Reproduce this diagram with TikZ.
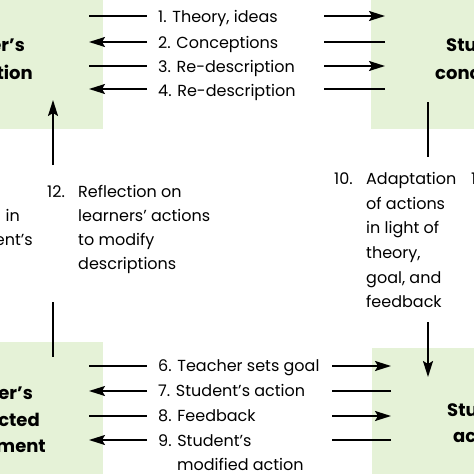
\documentclass[tikz,border=0pt]{standalone}
\usepackage{fontspec}
\setmainfont{Poppins}
\usetikzlibrary{arrows.meta}
\definecolor{boxgreen}{RGB}{229,242,215}
\tikzset{
  conn/.style={line width=1.8pt},
  tip/.style={conn,-{Stealth[length=16pt,width=10pt,inset=3pt]}},
  lbl/.style={inner sep=0pt,font=\fontsize{16}{19}\selectfont},
  boxtxt/.style={inner sep=0pt,font=\fontsize{18}{21}\selectfont\bfseries},
  panel/.style={fill=boxgreen,draw=none}
}
\begin{document}
\begin{tikzpicture}[x=1pt,y=-1pt]
\useasboundingbox (0,0) rectangle (474,474);
\clip (0,0) rectangle (474,474);
% boxes
\path[panel] (-20,-20) rectangle (103,129);
\path[panel] (371,-20) rectangle (494,129);
\path[panel] (-20,342) rectangle (103,494);
\path[panel] (372,348) rectangle (494,494);
% box texts
\node[boxtxt,anchor=base east] (tl1) at (25,51) {er's};
\node[boxtxt,anchor=base east] (tl2) at (33,79) {otion};
\node[boxtxt,anchor=base west] (tr1) at (446,51) {Stud};
\node[boxtxt,anchor=base west] (tr2) at (435,79) {conce};
\node[boxtxt,anchor=base east] (bl1) at (33,399) {her's};
\node[boxtxt,anchor=base east] (bl2) at (40,426) {ucted};
\node[boxtxt,anchor=base east] (bl3) at (46,452) {nment};
\node[boxtxt,anchor=base west] (br1) at (447,416) {Stud};
\node[boxtxt,anchor=base west] (br2) at (453,442) {act};
% top labels
\node[lbl,anchor=base west] (n1) at (158,22) {1. Theory, ideas};
\node[lbl,anchor=base west] (n2) at (158,48) {2. Conceptions};
\node[lbl,anchor=base west] (n3) at (158,72) {3. Re-description};
\node[lbl,anchor=base west] (n4) at (158,96) {4. Re-description};
% bottom labels
\node[lbl,anchor=base west] (n6) at (158,371) {6. Teacher sets goal};
\node[lbl,anchor=base west] (n7) at (158,396) {7. Student's action};
\node[lbl,anchor=base west] (n8) at (158,421) {8. Feedback};
\node[lbl,anchor=base west] (n9) at (158,446) {9. Student's};
\node[lbl,anchor=base west] (n9b) at (177,470) {modified action};
% middle left text
\node[lbl,anchor=base west] (n12) at (47,197) {12.};
\node[lbl,anchor=base west] (r1) at (78,197) {Reflection on};
\node[lbl,anchor=base west] (r2) at (78,221) {learners' actions};
\node[lbl,anchor=base west] (r3) at (78,245) {to modify};
\node[lbl,anchor=base west] (r4) at (78,269) {descriptions};
% middle right text
\node[lbl,anchor=base west] (n10) at (334,184) {10.};
\node[lbl,anchor=base west] (a1) at (366,184) {Adaptation};
\node[lbl,anchor=base west] (a2) at (366,209) {of actions};
\node[lbl,anchor=base west] (a3) at (366,233) {in light of};
\node[lbl,anchor=base west] (a4) at (366,258) {theory,};
\node[lbl,anchor=base west] (a5) at (366,283) {goal, and};
\node[lbl,anchor=base west] (a6) at (366,307) {feedback};
% partial texts at edges
\node[lbl,anchor=base east] (p1) at (20,221) {in};
\node[lbl,anchor=base east] (p2) at (33,245) {ent's};
\node[lbl,anchor=base west] (p3) at (471,184) {11.};
% connector coordinates
\foreach \k/\y in {1/16,2/42,3/66,4/89,6/366,7/391,8/416,9/440}{
  \coordinate (L\k a) at (89,\y);
  \coordinate (L\k b) at (147,\y);
}
\foreach \k/\y in {1/16,2/42,3/66,4/89}{
  \coordinate (R\k a) at (324,\y);
  \coordinate (R\k b) at (385,\y);
}
\foreach \k/\y in {6/366,7/391,8/416,9/440}{
  \coordinate (R\k a) at (332,\y);
  \coordinate (R\k b) at (391,\y);
}
% top arrows
\draw[conn] (L1a) -- (L1b);
\draw[tip] (R1a) -- (R1b);
\draw[tip] (L2b) -- (L2a);
\draw[conn] (R2b) -- (R2a);
\draw[conn] (L3a) -- (L3b);
\draw[tip] (R3a) -- (R3b);
\draw[tip] (L4b) -- (L4a);
\draw[conn] (R4b) -- (R4a);
% bottom arrows
\draw[conn] (L6a) -- (L6b);
\draw[tip] (R6a) -- (R6b);
\draw[tip] (L7b) -- (L7a);
\draw[conn] (R7b) -- (R7a);
\draw[conn] (L8a) -- (L8b);
\draw[tip] (R8a) -- (R8b);
\draw[tip] (L9b) -- (L9a);
\draw[conn] (R9b) -- (R9a);
% vertical arrows
\coordinate (VL1) at (53,165);
\coordinate (VL2) at (53,100);
\coordinate (VL3) at (53,302);
\coordinate (VL4) at (53,357);
\coordinate (VR1) at (428,102);
\coordinate (VR2) at (428,157);
\coordinate (VR3) at (428,322);
\coordinate (VR4) at (428,377);
\draw[tip] (VL1) -- (VL2);
\draw[conn] (VL3) -- (VL4);
\draw[conn] (VR1) -- (VR2);
\draw[tip] (VR3) -- (VR4);
\end{tikzpicture}
\end{document}
